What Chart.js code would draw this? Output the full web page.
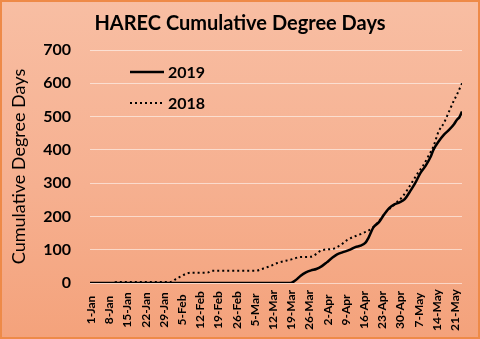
<!DOCTYPE html>
<html>
<head>
<meta charset="utf-8">
<script src="https://cdn.jsdelivr.net/npm/chart.js@4"></script>
<style>
  html, body { margin: 0; padding: 0; }
  #wrap {
    position: relative;
    width: 480px;
    height: 339px;
    background: linear-gradient(to bottom, #f8bea3 0%, #f6b090 55%, #f4a27b 100%);
  }
  #frame {
    position: absolute;
    left: 0; top: 0; right: 0; bottom: 0;
    border: 2px solid #ee8a48;
    pointer-events: none;
  }
  canvas { position: absolute; left: 0; top: 0; }
</style>
</head>
<body>
<div id="wrap">
  <canvas id="cdd-chart" width="480" height="339"></canvas>
  <div id="frame"></div>
</div>
<script>
// week labels on the x axis (one every 7 days from 1-Jan)
const weekLabels = ['1-Jan', '8-Jan', '15-Jan', '22-Jan', '29-Jan', '5-Feb', '12-Feb', '19-Feb',
  '26-Feb', '5-Mar', '12-Mar', '19-Mar', '26-Mar', '2-Apr', '9-Apr', '16-Apr', '23-Apr',
  '30-Apr', '7-May', '14-May', '21-May'];

// day of year (0 = 1-Jan) and cumulative degree days
const days2019 = [0, 77, 79, 81, 83, 85, 87, 89, 91, 93, 95, 97, 100, 102, 104, 106, 107, 109,
  111, 113, 115, 117, 119, 121, 123, 125, 127, 129, 131, 132, 134, 136, 138, 140, 141, 142, 143];
const cdd2019 = [0, 0, 8, 22, 32, 38, 42, 50, 62, 75, 86, 92, 100, 108, 112, 122, 135, 168,
  182, 205, 225, 236, 242, 252, 275, 300, 330, 352, 380, 400, 425, 445, 460, 478, 490, 498, 515];

const days2018 = [0, 9, 10, 31, 33, 35, 37, 39, 45, 47, 64, 66, 69, 72, 77, 81, 85, 89, 94, 97,
  99, 104, 108, 111, 114, 116, 118, 120, 122, 124, 126, 128, 130, 132, 134, 136, 138, 140, 141, 143];
const cdd2018 = [0, 0, 3, 3, 12, 20, 28, 31, 31, 37, 37, 42, 50, 60, 70, 78, 79, 98, 104, 118,
  130, 147, 162, 185, 215, 228, 243, 258, 280, 305, 330, 352, 380, 410, 455, 480, 515, 550, 565, 600];

const yTicks = [0, 100, 200, 300, 400, 500, 600, 700];

const toPoints = (xs, ys) => xs.map((d, i) => ({ x: d, y: ys[i] }));

// legend drawn inside the plot, like the original
const insideLegend = {
  id: 'insideLegend',
  afterDatasetsDraw(chart) {
    const ctx = chart.ctx;
    chart.data.datasets.forEach((ds, i) => {
      const y = 72 + i * 31;
      ctx.save();
      ctx.strokeStyle = ds.borderColor;
      ctx.lineWidth = ds.borderWidth;
      ctx.setLineDash(ds.borderDash || []);
      ctx.beginPath();
      ctx.moveTo(130, y);
      ctx.lineTo(164, y);
      ctx.stroke();
      ctx.setLineDash([]);
      ctx.fillStyle = '#000';
      ctx.font = 'bold 16px Lato';
      ctx.textBaseline = 'middle';
      ctx.fillText(ds.label, 168, y + 1);
      ctx.restore();
    });
  }
};

// rotated week labels, centred vertically under the axis (Excel style)
const centredXLabels = {
  id: 'centredXLabels',
  afterDraw(chart) {
    const xs = chart.scales.x;
    const ctx = chart.ctx;
    ctx.save();
    ctx.fillStyle = '#000';
    ctx.font = 'bold 12px Lato';
    ctx.textAlign = 'center';
    ctx.textBaseline = 'middle';
    xs.ticks.forEach(t => {
      const label = weekLabels[Math.round(t.value / 7)];
      if (!label) return;
      ctx.save();
      ctx.translate(xs.getPixelForValue(t.value) + 1, 310);
      ctx.rotate(-Math.PI / 2);
      ctx.fillText(label, 0, 0);
      ctx.restore();
    });
    ctx.restore();
  }
};

new Chart(document.getElementById('cdd-chart'), {
  type: 'line',
  data: {
    datasets: [
      {
        label: '2019',
        data: toPoints(days2019, cdd2019),
        borderColor: '#000',
        borderWidth: 2.5,
        pointRadius: 0,
        cubicInterpolationMode: 'monotone'
      },
      {
        label: '2018',
        data: toPoints(days2018, cdd2018),
        borderColor: '#000',
        borderWidth: 2,
        borderDash: [2, 3],
        pointRadius: 0,
        cubicInterpolationMode: 'monotone'
      }
    ]
  },
  options: {
    responsive: false,
    animation: false,
    layout: { padding: { left: 18, right: 18, top: 0, bottom: 0 } },
    plugins: {
      legend: { display: false },
      tooltip: { enabled: false },
      title: {
        display: true,
        text: 'HAREC Cumulative Degree Days',
        color: '#000',
        font: { family: 'Lato', size: 20, weight: 'bold' },
        padding: { top: 12, bottom: 14 }
      }
    },
    scales: {
      x: {
        type: 'linear',
        min: 0,
        max: 143,
        afterFit: s => { s.height = 56; },
        grid: { display: false, drawTicks: false },
        border: { display: false },
        ticks: {
          display: false,
          stepSize: 7,
          includeBounds: false,
          autoSkip: false
        }
      },
      y: {
        min: 0,
        max: 700,
        afterFit: s => { s.width = 72; },
        afterBuildTicks: s => { s.ticks = yTicks.map(v => ({ value: v })); },
        grid: { color: 'rgba(255,255,255,0.55)', lineWidth: 1, drawTicks: false },
        border: { display: false },
        ticks: {
          padding: 19,
          color: '#000',
          font: { family: 'Lato', size: 16, weight: 'bold' }
        },
        title: {
          display: true,
          text: 'Cumulative Degree Days',
          color: '#000',
          font: { family: 'Lato', size: 18 },
          padding: { top: -10, bottom: 0 }
        }
      }
    }
  },
  plugins: [insideLegend, centredXLabels]
});
</script>
</body>
</html>
